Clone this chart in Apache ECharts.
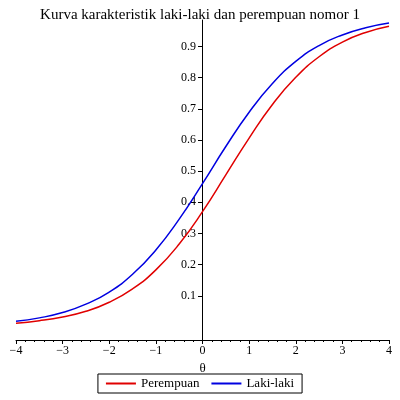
<!doctype html>
<html>
<head>
<meta charset="UTF-8">
<script src="https://cdn.jsdelivr.net/npm/echarts@6/dist/echarts.min.js"></script>
<style>body{margin:0;background:#fff}#c{width:400px;height:400px}</style>
</head>
<body>
<div id="c"></div>
<script>
// theta values and the two characteristic curves
var theta = [-4,-3.5,-3,-2.5,-2,-1.5,-1,-0.5,0,0.5,1,1.5,2,2.5,3,3.5,4];
var perempuan = [0.012,0.020,0.032,0.050,0.079,0.122,0.183,0.266,0.370,0.488,0.606,0.714,0.801,0.867,0.914,0.945,0.965];
var lakiLaki = [0.018,0.029,0.046,0.073,0.112,0.169,0.247,0.346,0.460,0.579,0.689,0.781,0.852,0.903,0.937,0.960,0.975];
var xTicks = [-4,-3,-2,-1,0,1,2,3,4];
var yTicks = [0.1,0.2,0.3,0.4,0.5,0.6,0.7,0.8,0.9];

function pairs(ys) { return theta.map(function (t, i) { return [t, ys[i]]; }); }

var font = 'Liberation Serif';
var chart = echarts.init(document.getElementById('c'));
chart.setOption({
    animation: false,
    textStyle: {fontFamily: font, color: '#000'},
    title: {text: 'Kurva karakteristik laki-laki dan perempuan nomor 1', left: 'center', top: 3,
        textStyle: {fontFamily: font, fontSize: 15, fontWeight: 'normal', color: '#000'}},
    legend: {
        bottom: 7, left: 'center', itemWidth: 30, itemHeight: 2, itemGap: 12,
        borderColor: '#000', borderWidth: 1, borderRadius: 0, padding: [3, 8],
        textStyle: {fontFamily: font, fontSize: 13, color: '#000'},
        data: [{name: 'Perempuan', icon: 'rect'}, {name: 'Laki-laki', icon: 'rect'}]
    },
    grid: {left: 16, right: 11, top: 20, bottom: 60},
    xAxis: {
        type: 'value', min: -4, max: 4, interval: 1,
        name: 'θ', nameLocation: 'middle', nameGap: 18, nameTextStyle: {fontSize: 13, fontFamily: font},
        axisLine: {onZero: false, lineStyle: {color: '#000'}},
        axisTick: {inside: false, length: 4, lineStyle: {color: '#000'}},
        minorTick: {show: true, splitNumber: 5, length: 2, lineStyle: {color: '#000'}},
        axisLabel: {fontSize: 12, fontFamily: font, color: '#000', margin: 5,
            formatter: function (v) { return v < 0 ? '\u2212' + (-v) : v; }},
        splitLine: {show: false}
    },
    yAxis: {
        type: 'value', min: -0.042, max: 0.985,
        axisLine: {onZero: false, lineStyle: {color: '#000'}},
        position: 'left', offset: -186,
        axisTick: {customValues: yTicks, length: 4, lineStyle: {color: '#000'}},
        axisLabel: {customValues: yTicks, fontSize: 12, fontFamily: font, color: '#000', margin: 6,
            formatter: function (v) { return v.toFixed(1); }},
        splitLine: {show: false}
    },
    series: [
        {name: 'Perempuan', type: 'line', smooth: true, showSymbol: false, color: '#e00000',
            lineStyle: {width: 1.5}, data: pairs(perempuan)},
        {name: 'Laki-laki', type: 'line', smooth: true, showSymbol: false, color: '#0000e0',
            lineStyle: {width: 1.5}, data: pairs(lakiLaki)}
    ]
});
</script>
</body>
</html>
